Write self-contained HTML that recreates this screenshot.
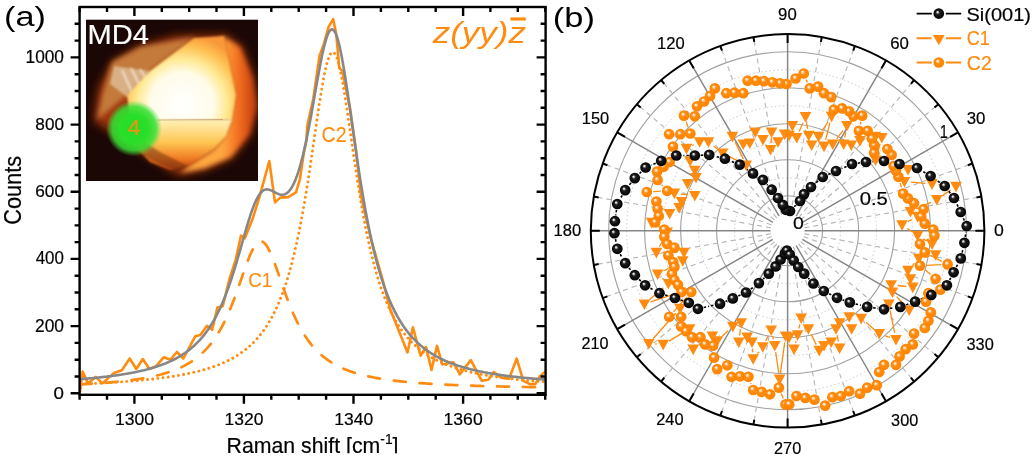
<!DOCTYPE html><html><head><meta charset="utf-8"><style>html,body{margin:0;padding:0;background:#fff;width:1033px;height:458px;overflow:hidden}svg{display:block;will-change:transform}text{font-family:"Liberation Sans", sans-serif;stroke-width:0.2px}</style></head><body>
<svg width="1033" height="458" viewBox="0 0 1033 458">
<defs><radialGradient id="bk" cx="0.5" cy="0.5" r="0.5" fx="0.36" fy="0.34"><stop offset="0" stop-color="#ffffff"/><stop offset="0.14" stop-color="#c8c8c8"/><stop offset="0.36" stop-color="#202020"/><stop offset="1" stop-color="#000"/></radialGradient><radialGradient id="og" cx="0.5" cy="0.5" r="0.5" fx="0.37" fy="0.33"><stop offset="0" stop-color="#ffffff"/><stop offset="0.15" stop-color="#ffe2c0"/><stop offset="0.42" stop-color="#ff8c10"/><stop offset="1" stop-color="#ff8400"/></radialGradient></defs>
<g id="inset">
<defs><clipPath id="ic"><rect x="86" y="19.4" width="172" height="161.6"/></clipPath><filter id="bl" x="-20%" y="-20%" width="140%" height="140%"><feGaussianBlur stdDeviation="1.3"/></filter><filter id="bl2" x="-20%" y="-20%" width="140%" height="140%"><feGaussianBlur stdDeviation="2.6"/></filter><filter id="bl3" x="-20%" y="-20%" width="140%" height="140%"><feGaussianBlur stdDeviation="5"/></filter><radialGradient id="cg" gradientUnits="userSpaceOnUse" cx="182" cy="104" r="70"><stop offset="0" stop-color="#ffffff"/><stop offset="0.45" stop-color="#fffcea"/><stop offset="0.64" stop-color="#ffea94"/><stop offset="0.84" stop-color="#ffbe50"/><stop offset="1" stop-color="#f89838"/></radialGradient><linearGradient id="rb" gradientUnits="userSpaceOnUse" x1="222" y1="0" x2="258" y2="0"><stop offset="0" stop-color="#ffa840"/><stop offset="0.5" stop-color="#f06a1e"/><stop offset="1" stop-color="#b8380e"/></linearGradient><linearGradient id="lb" gradientUnits="userSpaceOnUse" x1="0" y1="118" x2="0" y2="172"><stop offset="0" stop-color="#fff6c0"/><stop offset="0.45" stop-color="#ffc654"/><stop offset="0.75" stop-color="#f07c24"/><stop offset="1" stop-color="#b0380e"/></linearGradient><radialGradient id="gg" cx="0.5" cy="0.5" r="0.5"><stop offset="0" stop-color="#26dc26"/><stop offset="0.5" stop-color="#2ade2a"/><stop offset="0.78" stop-color="#34e034" stop-opacity="0.85"/><stop offset="1" stop-color="#40e040" stop-opacity="0"/></radialGradient></defs>
<g clip-path="url(#ic)">
<rect x="86" y="19.4" width="172" height="161.6" fill="#1b0706"/>
<path d="M94,121 L98,90 L112,62 L140,46 L175,36 L226,35 L242,47 L254,78 L258,106 L251,134 L232,158 L205,170 L178,175 Z" fill="#a0340e" filter="url(#bl3)"/>
<path d="M222,36 L240,47 L252,78 L256,106 L249,134 L231,157 L205,168 L180,173 L190,165 L214,149 L224,136 L230,120 L234,95 Z" fill="url(#rb)" filter="url(#bl2)"/>
<path d="M97,120 L103,92 L112,62 L140,47 L196,37 L150,71 L127,95 Z" fill="#c47a3a" filter="url(#bl2)"/>
<path d="M114,66 L150,71 L140,88 L127,97 L110,84 Z" fill="#e8d4b8" opacity="0.6" filter="url(#bl)"/>
<path d="M122,70 L132,92 M131,68 L141,88 M140,69 L147,80" stroke="#fff8ec" stroke-width="2.2" opacity="0.6" filter="url(#bl)"/>
<path d="M127,95 L150,71 L194,38 L224,36 L236,95 L232,120 L150,121 L130,118 Z" fill="url(#cg)" filter="url(#bl)"/>
<path d="M128,119 L232,119.5 L226,136 L214,149 L191,164 L170,170 L150,162 L130,140 Z" fill="url(#lb)" filter="url(#bl)"/>
<path d="M96,121 L120,140 L150,160 L178,172 L188,166 L160,152 L125,130 Z" fill="#6a2a10" opacity="0.5" filter="url(#bl)"/>
<path d="M158,120 L223,119.5" stroke="#8a6040" stroke-width="0.9" opacity="0.4"/>
<circle cx="134" cy="128.5" r="28" fill="url(#gg)"/>
</g>
</g>
<clipPath id="cl"><rect x="80" y="8" width="465" height="386"/></clipPath>
<g clip-path="url(#cl)">
<path d="M80.0,384.1 L81.0,384.1 L82.0,384.0 L83.0,384.0 L84.0,383.9 L85.0,383.9 L86.0,383.9 L87.0,383.8 L88.0,383.8 L89.0,383.7 L90.0,383.7 L91.0,383.6 L92.0,383.6 L93.0,383.5 L94.0,383.5 L95.0,383.4 L96.0,383.4 L97.0,383.3 L98.0,383.3 L99.0,383.2 L100.0,383.2 L101.0,383.1 L102.0,383.0 L103.0,383.0 L104.0,382.9 L105.0,382.9 L106.0,382.8 L107.0,382.8 L108.0,382.7 L109.0,382.6 L110.0,382.6 L111.0,382.5 L112.0,382.5 L113.0,382.4 L114.0,382.3 L115.0,382.3 L116.0,382.2 L117.0,382.1 L118.0,382.1 L119.0,382.0 L120.0,381.9 L121.0,381.9 L122.0,381.8 L123.0,381.7 L124.0,381.6 L125.0,381.6 L126.0,381.5 L127.0,381.4 L128.0,381.3 L129.0,381.3 L130.0,381.2 L131.0,381.1 L132.0,381.0 L133.0,380.9 L134.0,380.8 L135.0,380.8 L136.0,380.7 L137.0,380.6 L138.0,380.5 L139.0,380.4 L140.0,380.3 L141.0,380.2 L142.0,380.1 L143.0,380.0 L144.0,379.9 L145.0,379.8 L146.0,379.7 L147.0,379.6 L148.0,379.5 L149.0,379.4 L150.0,379.3 L151.0,379.2 L152.0,379.1 L153.0,379.0 L154.0,378.9 L155.0,378.8 L156.0,378.6 L157.0,378.5 L158.0,378.4 L159.0,378.3 L160.0,378.1 L161.0,378.0 L162.0,377.9 L163.0,377.8 L164.0,377.6 L165.0,377.5 L166.0,377.4 L167.0,377.2 L168.0,377.1 L169.0,376.9 L170.0,376.8 L171.0,376.6 L172.0,376.5 L173.0,376.3 L174.0,376.2 L175.0,376.0 L176.0,375.8 L177.0,375.7 L178.0,375.5 L179.0,375.3 L180.0,375.1 L181.0,375.0 L182.0,374.8 L183.0,374.6 L184.0,374.4 L185.0,374.2 L186.0,374.0 L187.0,373.8 L188.0,373.6 L189.0,373.4 L190.0,373.2 L191.0,373.0 L192.0,372.7 L193.0,372.5 L194.0,372.3 L195.0,372.0 L196.0,371.8 L197.0,371.6 L198.0,371.3 L199.0,371.1 L200.0,370.8 L201.0,370.5 L202.0,370.3 L203.0,370.0 L204.0,369.7 L205.0,369.4 L206.0,369.1 L207.0,368.8 L208.0,368.5 L209.0,368.2 L210.0,367.9 L211.0,367.5 L212.0,367.2 L213.0,366.9 L214.0,366.5 L215.0,366.1 L216.0,365.8 L217.0,365.4 L218.0,365.0 L219.0,364.6 L220.0,364.2 L221.0,363.8 L222.0,363.4 L223.0,362.9 L224.0,362.5 L225.0,362.0 L226.0,361.6 L227.0,361.1 L228.0,360.6 L229.0,360.1 L230.0,359.6 L231.0,359.1 L232.0,358.5 L233.0,358.0 L234.0,357.4 L235.0,356.8 L236.0,356.2 L237.0,355.6 L238.0,354.9 L239.0,354.3 L240.0,353.6 L241.0,352.9 L242.0,352.2 L243.0,351.5 L244.0,350.7 L245.0,350.0 L246.0,349.2 L247.0,348.3 L248.0,347.5 L249.0,346.6 L250.0,345.7 L251.0,344.8 L252.0,343.9 L253.0,342.9 L254.0,341.9 L255.0,340.8 L256.0,339.8 L257.0,338.7 L258.0,337.5 L259.0,336.3 L260.0,335.1 L261.0,333.9 L262.0,332.6 L263.0,331.2 L264.0,329.9 L265.0,328.4 L266.0,326.9 L267.0,325.4 L268.0,323.8 L269.0,322.2 L270.0,320.5 L271.0,318.7 L272.0,316.9 L273.0,315.0 L274.0,313.1 L275.0,311.1 L276.0,309.0 L277.0,306.8 L278.0,304.6 L279.0,302.2 L280.0,299.8 L281.0,297.3 L282.0,294.7 L283.0,292.0 L284.0,289.2 L285.0,286.3 L286.0,283.2 L287.0,280.1 L288.0,276.9 L289.0,273.5 L290.0,270.0 L291.0,266.3 L292.0,262.6 L293.0,258.6 L294.0,254.6 L295.0,250.4 L296.0,246.0 L297.0,241.5 L298.0,236.8 L299.0,231.9 L300.0,226.9 L301.0,221.7 L302.0,216.4 L303.0,210.8 L304.0,205.1 L305.0,199.3 L306.0,193.3 L307.0,187.1 L308.0,180.8 L309.0,174.3 L310.0,167.7 L311.0,161.0 L312.0,154.2 L313.0,147.3 L314.0,140.4 L315.0,133.5 L316.0,126.6 L317.0,119.7 L318.0,112.9 L319.0,106.2 L320.0,99.7 L321.0,93.4 L322.0,87.4 L323.0,81.7 L324.0,76.4 L325.0,71.4 L326.0,67.0 L327.0,63.0 L328.0,59.6 L329.0,56.9 L330.0,54.7 L331.0,53.2 L332.0,52.3 L333.0,52.2 L334.0,52.7 L335.0,53.9 L336.0,55.7 L337.0,58.2 L338.0,61.3 L339.0,65.0 L340.0,69.3 L341.0,74.0 L342.0,79.1 L343.0,84.6 L344.0,90.5 L345.0,96.7 L346.0,103.1 L347.0,109.7 L348.0,116.4 L349.0,123.3 L350.0,130.2 L351.0,137.1 L352.0,144.1 L353.0,151.0 L354.0,157.8 L355.0,164.5 L356.0,171.2 L357.0,177.7 L358.0,184.1 L359.0,190.3 L360.0,196.4 L361.0,202.4 L362.0,208.1 L363.0,213.8 L364.0,219.2 L365.0,224.5 L366.0,229.6 L367.0,234.5 L368.0,239.3 L369.0,243.9 L370.0,248.3 L371.0,252.6 L372.0,256.7 L373.0,260.7 L374.0,264.5 L375.0,268.3 L376.0,271.8 L377.0,275.3 L378.0,278.6 L379.0,281.8 L380.0,284.8 L381.0,287.8 L382.0,290.7 L383.0,293.4 L384.0,296.1 L385.0,298.6 L386.0,301.1 L387.0,303.5 L388.0,305.7 L389.0,307.9 L390.0,310.1 L391.0,312.1 L392.0,314.1 L393.0,316.0 L394.0,317.9 L395.0,319.7 L396.0,321.4 L397.0,323.1 L398.0,324.7 L399.0,326.2 L400.0,327.7 L401.0,329.2 L402.0,330.6 L403.0,331.9 L404.0,333.3 L405.0,334.5 L406.0,335.8 L407.0,337.0 L408.0,338.1 L409.0,339.2 L410.0,340.3 L411.0,341.4 L412.0,342.4 L413.0,343.4 L414.0,344.4 L415.0,345.3 L416.0,346.2 L417.0,347.1 L418.0,347.9 L419.0,348.8 L420.0,349.6 L421.0,350.4 L422.0,351.1 L423.0,351.9 L424.0,352.6 L425.0,353.3 L426.0,354.0 L427.0,354.6 L428.0,355.3 L429.0,355.9 L430.0,356.5 L431.0,357.1 L432.0,357.7 L433.0,358.2 L434.0,358.8 L435.0,359.3 L436.0,359.9 L437.0,360.4 L438.0,360.9 L439.0,361.3 L440.0,361.8 L441.0,362.3 L442.0,362.7 L443.0,363.2 L444.0,363.6 L445.0,364.0 L446.0,364.4 L447.0,364.8 L448.0,365.2 L449.0,365.6 L450.0,366.0 L451.0,366.3 L452.0,366.7 L453.0,367.0 L454.0,367.4 L455.0,367.7 L456.0,368.0 L457.0,368.4 L458.0,368.7 L459.0,369.0 L460.0,369.3 L461.0,369.6 L462.0,369.8 L463.0,370.1 L464.0,370.4 L465.0,370.7 L466.0,370.9 L467.0,371.2 L468.0,371.4 L469.0,371.7 L470.0,371.9 L471.0,372.2 L472.0,372.4 L473.0,372.6 L474.0,372.9 L475.0,373.1 L476.0,373.3 L477.0,373.5 L478.0,373.7 L479.0,373.9 L480.0,374.1 L481.0,374.3 L482.0,374.5 L483.0,374.7 L484.0,374.9 L485.0,375.1 L486.0,375.2 L487.0,375.4 L488.0,375.6 L489.0,375.7 L490.0,375.9 L491.0,376.1 L492.0,376.2 L493.0,376.4 L494.0,376.6 L495.0,376.7 L496.0,376.9 L497.0,377.0 L498.0,377.1 L499.0,377.3 L500.0,377.4 L501.0,377.6 L502.0,377.7 L503.0,377.8 L504.0,378.0 L505.0,378.1 L506.0,378.2 L507.0,378.3 L508.0,378.5 L509.0,378.6 L510.0,378.7 L511.0,378.8 L512.0,378.9 L513.0,379.0 L514.0,379.2 L515.0,379.3 L516.0,379.4 L517.0,379.5 L518.0,379.6 L519.0,379.7 L520.0,379.8 L521.0,379.9 L522.0,380.0 L523.0,380.1 L524.0,380.2 L525.0,380.3 L526.0,380.4 L527.0,380.5 L528.0,380.5 L529.0,380.6 L530.0,380.7 L531.0,380.8 L532.0,380.9 L533.0,381.0 L534.0,381.1 L535.0,381.1 L536.0,381.2 L537.0,381.3 L538.0,381.4 L539.0,381.5 L540.0,381.5 L541.0,381.6 L542.0,381.7 L543.0,381.7 L544.0,381.8 L545.0,381.9" fill="none" stroke="#ff8c10" stroke-width="2.9" stroke-dasharray="0.01 5.2" stroke-linecap="round"/>
<path d="M80.0,384.4 L81.0,384.4 L82.0,384.3 L83.0,384.3 L84.0,384.2 L85.0,384.2 L86.0,384.1 L87.0,384.0 L88.0,384.0 L89.0,383.9 L90.0,383.9 L91.0,383.8 L92.0,383.7 L93.0,383.7 L94.0,383.6 L95.0,383.5 L96.0,383.5 L97.0,383.4 L98.0,383.3 L99.0,383.3 L100.0,383.2 L101.0,383.1 L102.0,383.1 L103.0,383.0 L104.0,382.9 L105.0,382.8 L106.0,382.7 L107.0,382.7 L108.0,382.6 L109.0,382.5 L110.0,382.4 L111.0,382.3 L112.0,382.2 L113.0,382.1 L114.0,382.0 L115.0,382.0 L116.0,381.9 L117.0,381.8 L118.0,381.7 L119.0,381.6 L120.0,381.4 L121.0,381.3 L122.0,381.2 L123.0,381.1 L124.0,381.0 L125.0,380.9 L126.0,380.8 L127.0,380.7 L128.0,380.5 L129.0,380.4 L130.0,380.3 L131.0,380.2 L132.0,380.0 L133.0,379.9 L134.0,379.7 L135.0,379.6 L136.0,379.5 L137.0,379.3 L138.0,379.2 L139.0,379.0 L140.0,378.8 L141.0,378.7 L142.0,378.5 L143.0,378.3 L144.0,378.2 L145.0,378.0 L146.0,377.8 L147.0,377.6 L148.0,377.4 L149.0,377.2 L150.0,377.0 L151.0,376.8 L152.0,376.6 L153.0,376.4 L154.0,376.2 L155.0,376.0 L156.0,375.7 L157.0,375.5 L158.0,375.2 L159.0,375.0 L160.0,374.7 L161.0,374.5 L162.0,374.2 L163.0,373.9 L164.0,373.6 L165.0,373.3 L166.0,373.0 L167.0,372.7 L168.0,372.4 L169.0,372.1 L170.0,371.7 L171.0,371.4 L172.0,371.0 L173.0,370.7 L174.0,370.3 L175.0,369.9 L176.0,369.5 L177.0,369.1 L178.0,368.7 L179.0,368.3 L180.0,367.8 L181.0,367.3 L182.0,366.9 L183.0,366.4 L184.0,365.9 L185.0,365.4 L186.0,364.8 L187.0,364.3 L188.0,363.7 L189.0,363.1 L190.0,362.5 L191.0,361.9 L192.0,361.2 L193.0,360.5 L194.0,359.8 L195.0,359.1 L196.0,358.4 L197.0,357.6 L198.0,356.8 L199.0,356.0 L200.0,355.1 L201.0,354.3 L202.0,353.4 L203.0,352.4 L204.0,351.4 L205.0,350.4 L206.0,349.4 L207.0,348.3 L208.0,347.2 L209.0,346.0 L210.0,344.8 L211.0,343.6 L212.0,342.3 L213.0,340.9 L214.0,339.5 L215.0,338.1 L216.0,336.6 L217.0,335.1 L218.0,333.5 L219.0,331.8 L220.0,330.1 L221.0,328.3 L222.0,326.5 L223.0,324.6 L224.0,322.6 L225.0,320.6 L226.0,318.5 L227.0,316.4 L228.0,314.1 L229.0,311.8 L230.0,309.5 L231.0,307.1 L232.0,304.6 L233.0,302.0 L234.0,299.4 L235.0,296.8 L236.0,294.0 L237.0,291.3 L238.0,288.5 L239.0,285.6 L240.0,282.8 L241.0,279.9 L242.0,277.0 L243.0,274.1 L244.0,271.2 L245.0,268.4 L246.0,265.6 L247.0,262.9 L248.0,260.3 L249.0,257.7 L250.0,255.3 L251.0,253.0 L252.0,250.9 L253.0,248.9 L254.0,247.1 L255.0,245.6 L256.0,244.2 L257.0,243.1 L258.0,242.3 L259.0,241.7 L260.0,241.4 L261.0,241.3 L262.0,241.5 L263.0,241.9 L264.0,242.7 L265.0,243.6 L266.0,244.9 L267.0,246.3 L268.0,248.0 L269.0,249.8 L270.0,251.9 L271.0,254.1 L272.0,256.4 L273.0,258.9 L274.0,261.5 L275.0,264.2 L276.0,266.9 L277.0,269.8 L278.0,272.6 L279.0,275.5 L280.0,278.4 L281.0,281.3 L282.0,284.1 L283.0,287.0 L284.0,289.8 L285.0,292.6 L286.0,295.3 L287.0,298.0 L288.0,300.7 L289.0,303.3 L290.0,305.8 L291.0,308.2 L292.0,310.6 L293.0,313.0 L294.0,315.2 L295.0,317.4 L296.0,319.5 L297.0,321.6 L298.0,323.6 L299.0,325.5 L300.0,327.4 L301.0,329.2 L302.0,330.9 L303.0,332.6 L304.0,334.2 L305.0,335.8 L306.0,337.3 L307.0,338.8 L308.0,340.2 L309.0,341.6 L310.0,342.9 L311.0,344.2 L312.0,345.4 L313.0,346.6 L314.0,347.7 L315.0,348.8 L316.0,349.9 L317.0,350.9 L318.0,351.9 L319.0,352.9 L320.0,353.8 L321.0,354.7 L322.0,355.6 L323.0,356.4 L324.0,357.2 L325.0,358.0 L326.0,358.7 L327.0,359.5 L328.0,360.2 L329.0,360.9 L330.0,361.5 L331.0,362.2 L332.0,362.8 L333.0,363.4 L334.0,364.0 L335.0,364.5 L336.0,365.1 L337.0,365.6 L338.0,366.1 L339.0,366.6 L340.0,367.1 L341.0,367.6 L342.0,368.0 L343.0,368.5 L344.0,368.9 L345.0,369.3 L346.0,369.7 L347.0,370.1 L348.0,370.5 L349.0,370.9 L350.0,371.2 L351.0,371.6 L352.0,371.9 L353.0,372.2 L354.0,372.6 L355.0,372.9 L356.0,373.2 L357.0,373.5 L358.0,373.8 L359.0,374.1 L360.0,374.3 L361.0,374.6 L362.0,374.9 L363.0,375.1 L364.0,375.4 L365.0,375.6 L366.0,375.8 L367.0,376.1 L368.0,376.3 L369.0,376.5 L370.0,376.7 L371.0,376.9 L372.0,377.1 L373.0,377.3 L374.0,377.5 L375.0,377.7 L376.0,377.9 L377.0,378.1 L378.0,378.2 L379.0,378.4 L380.0,378.6 L381.0,378.8 L382.0,378.9 L383.0,379.1 L384.0,379.2 L385.0,379.4 L386.0,379.5 L387.0,379.7 L388.0,379.8 L389.0,379.9 L390.0,380.1 L391.0,380.2 L392.0,380.3 L393.0,380.5 L394.0,380.6 L395.0,380.7 L396.0,380.8 L397.0,381.0 L398.0,381.1 L399.0,381.2 L400.0,381.3 L401.0,381.4 L402.0,381.5 L403.0,381.6 L404.0,381.7 L405.0,381.8 L406.0,381.9 L407.0,382.0 L408.0,382.1 L409.0,382.2 L410.0,382.3 L411.0,382.4 L412.0,382.4 L413.0,382.5 L414.0,382.6 L415.0,382.7 L416.0,382.8 L417.0,382.9 L418.0,382.9 L419.0,383.0 L420.0,383.1 L421.0,383.2 L422.0,383.2 L423.0,383.3 L424.0,383.4 L425.0,383.4 L426.0,383.5 L427.0,383.6 L428.0,383.6 L429.0,383.7 L430.0,383.8 L431.0,383.8 L432.0,383.9 L433.0,384.0 L434.0,384.0 L435.0,384.1 L436.0,384.1 L437.0,384.2 L438.0,384.2 L439.0,384.3 L440.0,384.4 L441.0,384.4 L442.0,384.5 L443.0,384.5 L444.0,384.6 L445.0,384.6 L446.0,384.7 L447.0,384.7 L448.0,384.8 L449.0,384.8 L450.0,384.8 L451.0,384.9 L452.0,384.9 L453.0,385.0 L454.0,385.0 L455.0,385.1 L456.0,385.1 L457.0,385.1 L458.0,385.2 L459.0,385.2 L460.0,385.3 L461.0,385.3 L462.0,385.3 L463.0,385.4 L464.0,385.4 L465.0,385.5 L466.0,385.5 L467.0,385.5 L468.0,385.6 L469.0,385.6 L470.0,385.6 L471.0,385.7 L472.0,385.7 L473.0,385.7 L474.0,385.8 L475.0,385.8 L476.0,385.8 L477.0,385.9 L478.0,385.9 L479.0,385.9 L480.0,385.9 L481.0,386.0 L482.0,386.0 L483.0,386.0 L484.0,386.1 L485.0,386.1 L486.0,386.1 L487.0,386.1 L488.0,386.2 L489.0,386.2 L490.0,386.2 L491.0,386.3 L492.0,386.3 L493.0,386.3 L494.0,386.3 L495.0,386.4 L496.0,386.4 L497.0,386.4 L498.0,386.4 L499.0,386.4 L500.0,386.5 L501.0,386.5 L502.0,386.5 L503.0,386.5 L504.0,386.6 L505.0,386.6 L506.0,386.6 L507.0,386.6 L508.0,386.6 L509.0,386.7 L510.0,386.7 L511.0,386.7 L512.0,386.7 L513.0,386.7 L514.0,386.8 L515.0,386.8 L516.0,386.8 L517.0,386.8 L518.0,386.8 L519.0,386.9 L520.0,386.9 L521.0,386.9 L522.0,386.9 L523.0,386.9 L524.0,387.0 L525.0,387.0 L526.0,387.0 L527.0,387.0 L528.0,387.0 L529.0,387.0 L530.0,387.1 L531.0,387.1 L532.0,387.1 L533.0,387.1 L534.0,387.1 L535.0,387.1 L536.0,387.1 L537.0,387.2 L538.0,387.2 L539.0,387.2 L540.0,387.2 L541.0,387.2 L542.0,387.2 L543.0,387.3 L544.0,387.3 L545.0,387.3" fill="none" stroke="#ff8c10" stroke-width="2.7" stroke-dasharray="12 13.9" stroke-dashoffset="0.05" stroke-linecap="round"/>
<path d="M80.0,392.0 L82.6,371.6 L87.9,383.4 L95.7,376.9 L102.3,383.4 L114.0,372.9 L121.9,370.3 L129.7,358.5 L136.3,369.0 L142.8,359.0 L149.4,369.0 L155.9,366.4 L163.8,357.2 L170.3,359.8 L176.9,352.0 L183.4,358.5 L195.2,336.3 L200.4,335.0 L207.0,325.8 L212.2,329.7 L217.4,307.5 L222.7,306.2 L229.2,280.0 L235.7,260.0 L241.0,235.6 L244.9,238.2 L252.7,218.6 L259.3,197.6 L269.3,161.0 L275.0,202.4 L280.3,197.6 L288.1,197.1 L296.0,192.4 L299.9,179.3 L303.8,153.1 L306.5,140.0 L307.2,126.2 L313.3,98.7 L319.5,55.9 L324.0,43.6 L328.6,26.8 L333.2,19.2 L336.3,34.5 L339.3,68.1 L342.4,71.2 L345.5,86.5 L350.0,108.0 L356.0,150.0 L361.0,196.0 L371.0,239.0 L383.0,281.0 L390.0,308.7 L407.5,352.4 L412.9,327.3 L420.6,355.7 L426.0,347.0 L431.5,369.9 L437.0,345.9 L442.4,364.5 L453.4,362.3 L459.9,374.3 L470.8,360.1 L481.8,380.8 L488.3,379.7 L493.8,372.1 L501.4,377.6 L509.1,378.7 L516.7,358.6 L523.3,380.8 L529.8,384.1 L535.3,384.1 L539.7,376.5 L546.0,371.0" fill="none" stroke="#ff8c10" stroke-width="2.6" stroke-linejoin="round"/>
<path d="M80.0,379.2 L81.0,379.1 L82.0,379.0 L83.0,378.9 L84.0,378.9 L85.0,378.8 L86.0,378.7 L87.0,378.6 L88.0,378.5 L89.0,378.4 L90.0,378.3 L91.0,378.3 L92.0,378.2 L93.0,378.1 L94.0,378.0 L95.0,377.9 L96.0,377.8 L97.0,377.7 L98.0,377.6 L99.0,377.5 L100.0,377.4 L101.0,377.3 L102.0,377.1 L103.0,377.0 L104.0,376.9 L105.0,376.8 L106.0,376.7 L107.0,376.6 L108.0,376.4 L109.0,376.3 L110.0,376.2 L111.0,376.1 L112.0,375.9 L113.0,375.8 L114.0,375.7 L115.0,375.5 L116.0,375.4 L117.0,375.3 L118.0,375.1 L119.0,375.0 L120.0,374.8 L121.0,374.7 L122.0,374.5 L123.0,374.3 L124.0,374.2 L125.0,374.0 L126.0,373.8 L127.0,373.7 L128.0,373.5 L129.0,373.3 L130.0,373.1 L131.0,373.0 L132.0,372.8 L133.0,372.6 L134.0,372.4 L135.0,372.2 L136.0,372.0 L137.0,371.8 L138.0,371.5 L139.0,371.3 L140.0,371.1 L141.0,370.9 L142.0,370.6 L143.0,370.4 L144.0,370.2 L145.0,369.9 L146.0,369.7 L147.0,369.4 L148.0,369.1 L149.0,368.9 L150.0,368.6 L151.0,368.3 L152.0,368.0 L153.0,367.7 L154.0,367.4 L155.0,367.1 L156.0,366.8 L157.0,366.5 L158.0,366.1 L159.0,365.8 L160.0,365.4 L161.0,365.1 L162.0,364.7 L163.0,364.3 L164.0,364.0 L165.0,363.6 L166.0,363.2 L167.0,362.7 L168.0,362.3 L169.0,361.9 L170.0,361.4 L171.0,361.0 L172.0,360.5 L173.0,360.0 L174.0,359.5 L175.0,359.0 L176.0,358.5 L177.0,357.9 L178.0,357.4 L179.0,356.8 L180.0,356.2 L181.0,355.6 L182.0,355.0 L183.0,354.3 L184.0,353.6 L185.0,353.0 L186.0,352.3 L187.0,351.5 L188.0,350.8 L189.0,350.0 L190.0,349.2 L191.0,348.4 L192.0,347.6 L193.0,346.7 L194.0,345.8 L195.0,344.9 L196.0,343.9 L197.0,342.9 L198.0,341.9 L199.0,340.9 L200.0,339.8 L201.0,338.7 L202.0,337.5 L203.0,336.3 L204.0,335.1 L205.0,333.8 L206.0,332.5 L207.0,331.1 L208.0,329.7 L209.0,328.2 L210.0,326.7 L211.0,325.1 L212.0,323.5 L213.0,321.8 L214.0,320.1 L215.0,318.3 L216.0,316.4 L217.0,314.5 L218.0,312.5 L219.0,310.5 L220.0,308.4 L221.0,306.2 L222.0,303.9 L223.0,301.6 L224.0,299.1 L225.0,296.7 L226.0,294.1 L227.0,291.4 L228.0,288.7 L229.0,285.9 L230.0,283.0 L231.0,280.1 L232.0,277.1 L233.0,274.0 L234.0,270.8 L235.0,267.6 L236.0,264.3 L237.0,260.9 L238.0,257.5 L239.0,254.0 L240.0,250.6 L241.0,247.1 L242.0,243.5 L243.0,240.0 L244.0,236.5 L245.0,233.0 L246.0,229.6 L247.0,226.2 L248.0,222.8 L249.0,219.6 L250.0,216.4 L251.0,213.4 L252.0,210.5 L253.0,207.7 L254.0,205.2 L255.0,202.8 L256.0,200.5 L257.0,198.5 L258.0,196.7 L259.0,195.1 L260.0,193.7 L261.0,192.5 L262.0,191.5 L263.0,190.7 L264.0,190.1 L265.0,189.7 L266.0,189.5 L267.0,189.4 L268.0,189.5 L269.0,189.7 L270.0,190.0 L271.0,190.4 L272.0,190.8 L273.0,191.3 L274.0,191.9 L275.0,192.4 L276.0,192.9 L277.0,193.4 L278.0,193.8 L279.0,194.2 L280.0,194.5 L281.0,194.7 L282.0,194.7 L283.0,194.7 L284.0,194.5 L285.0,194.2 L286.0,193.7 L287.0,193.0 L288.0,192.2 L289.0,191.2 L290.0,190.0 L291.0,188.6 L292.0,187.0 L293.0,185.1 L294.0,183.1 L295.0,180.9 L296.0,178.4 L297.0,175.7 L298.0,172.8 L299.0,169.7 L300.0,166.4 L301.0,162.8 L302.0,159.0 L303.0,155.0 L304.0,150.8 L305.0,146.4 L306.0,141.8 L307.0,137.0 L308.0,132.0 L309.0,126.9 L310.0,121.6 L311.0,116.2 L312.0,110.6 L313.0,105.0 L314.0,99.3 L315.0,93.6 L316.0,87.9 L317.0,82.3 L318.0,76.7 L319.0,71.2 L320.0,65.9 L321.0,60.7 L322.0,55.8 L323.0,51.2 L324.0,47.0 L325.0,43.1 L326.0,39.6 L327.0,36.5 L328.0,34.0 L329.0,32.0 L330.0,30.6 L331.0,29.7 L332.0,29.4 L333.0,29.7 L334.0,30.6 L335.0,32.2 L336.0,34.3 L337.0,37.0 L338.0,40.2 L339.0,44.0 L340.0,48.3 L341.0,53.0 L342.0,58.2 L343.0,63.7 L344.0,69.5 L345.0,75.7 L346.0,82.1 L347.0,88.7 L348.0,95.5 L349.0,102.4 L350.0,109.4 L351.0,116.4 L352.0,123.5 L353.0,130.5 L354.0,137.6 L355.0,144.5 L356.0,151.4 L357.0,158.2 L358.0,164.9 L359.0,171.4 L360.0,177.9 L361.0,184.1 L362.0,190.3 L363.0,196.2 L364.0,202.0 L365.0,207.7 L366.0,213.1 L367.0,218.5 L368.0,223.6 L369.0,228.6 L370.0,233.4 L371.0,238.1 L372.0,242.6 L373.0,246.9 L374.0,251.1 L375.0,255.2 L376.0,259.1 L377.0,262.9 L378.0,266.5 L379.0,270.0 L380.0,273.4 L381.0,276.7 L382.0,279.8 L383.0,282.8 L384.0,285.8 L385.0,288.6 L386.0,291.3 L387.0,294.0 L388.0,296.5 L389.0,298.9 L390.0,301.3 L391.0,303.6 L392.0,305.8 L393.0,307.9 L394.0,309.9 L395.0,311.9 L396.0,313.8 L397.0,315.7 L398.0,317.4 L399.0,319.2 L400.0,320.8 L401.0,322.4 L402.0,324.0 L403.0,325.5 L404.0,327.0 L405.0,328.4 L406.0,329.7 L407.0,331.1 L408.0,332.3 L409.0,333.6 L410.0,334.8 L411.0,335.9 L412.0,337.1 L413.0,338.1 L414.0,339.2 L415.0,340.2 L416.0,341.2 L417.0,342.2 L418.0,343.1 L419.0,344.0 L420.0,344.9 L421.0,345.8 L422.0,346.6 L423.0,347.4 L424.0,348.2 L425.0,349.0 L426.0,349.7 L427.0,350.5 L428.0,351.2 L429.0,351.8 L430.0,352.5 L431.0,353.2 L432.0,353.8 L433.0,354.4 L434.0,355.0 L435.0,355.6 L436.0,356.2 L437.0,356.7 L438.0,357.2 L439.0,357.8 L440.0,358.3 L441.0,358.8 L442.0,359.3 L443.0,359.7 L444.0,360.2 L445.0,360.7 L446.0,361.1 L447.0,361.5 L448.0,361.9 L449.0,362.4 L450.0,362.8 L451.0,363.2 L452.0,363.5 L453.0,363.9 L454.0,364.3 L455.0,364.6 L456.0,365.0 L457.0,365.3 L458.0,365.7 L459.0,366.0 L460.0,366.3 L461.0,366.6 L462.0,366.9 L463.0,367.2 L464.0,367.5 L465.0,367.8 L466.0,368.1 L467.0,368.3 L468.0,368.6 L469.0,368.9 L470.0,369.1 L471.0,369.4 L472.0,369.6 L473.0,369.9 L474.0,370.1 L475.0,370.3 L476.0,370.6 L477.0,370.8 L478.0,371.0 L479.0,371.2 L480.0,371.4 L481.0,371.6 L482.0,371.8 L483.0,372.0 L484.0,372.2 L485.0,372.4 L486.0,372.6 L487.0,372.8 L488.0,373.0 L489.0,373.2 L490.0,373.3 L491.0,373.5 L492.0,373.7 L493.0,373.8 L494.0,374.0 L495.0,374.2 L496.0,374.3 L497.0,374.5 L498.0,374.6 L499.0,374.8 L500.0,374.9 L501.0,375.1 L502.0,375.2 L503.0,375.3 L504.0,375.5 L505.0,375.6 L506.0,375.7 L507.0,375.9 L508.0,376.0 L509.0,376.1 L510.0,376.2 L511.0,376.4 L512.0,376.5 L513.0,376.6 L514.0,376.7 L515.0,376.8 L516.0,376.9 L517.0,377.0 L518.0,377.1 L519.0,377.3 L520.0,377.4 L521.0,377.5 L522.0,377.6 L523.0,377.7 L524.0,377.8 L525.0,377.9 L526.0,378.0 L527.0,378.0 L528.0,378.1 L529.0,378.2 L530.0,378.3 L531.0,378.4 L532.0,378.5 L533.0,378.6 L534.0,378.7 L535.0,378.7 L536.0,378.8 L537.0,378.9 L538.0,379.0 L539.0,379.1 L540.0,379.1 L541.0,379.2 L542.0,379.3 L543.0,379.4 L544.0,379.4 L545.0,379.5" fill="none" stroke="#878787" stroke-width="2.6"/>
</g>
<rect x="79.6" y="7.0" width="466.0" height="387.8" fill="none" stroke="#000" stroke-width="2.4"/>
<path d="M70.6,393.3H79.6M545.6,393.3H536.6M74.6,376.5H79.6M545.6,376.5H540.6M74.6,359.7H79.6M545.6,359.7H540.6M74.6,342.9H79.6M545.6,342.9H540.6M70.6,326.1H79.6M545.6,326.1H536.6M74.6,309.3H79.6M545.6,309.3H540.6M74.6,292.5H79.6M545.6,292.5H540.6M74.6,275.7H79.6M545.6,275.7H540.6M70.6,258.9H79.6M545.6,258.9H536.6M74.6,242.1H79.6M545.6,242.1H540.6M74.6,225.4H79.6M545.6,225.4H540.6M74.6,208.6H79.6M545.6,208.6H540.6M70.6,191.8H79.6M545.6,191.8H536.6M74.6,175.0H79.6M545.6,175.0H540.6M74.6,158.2H79.6M545.6,158.2H540.6M74.6,141.4H79.6M545.6,141.4H540.6M70.6,124.6H79.6M545.6,124.6H536.6M74.6,107.8H79.6M545.6,107.8H540.6M74.6,91.0H79.6M545.6,91.0H540.6M74.6,74.2H79.6M545.6,74.2H540.6M70.6,57.4H79.6M545.6,57.4H536.6M74.6,40.6H79.6M545.6,40.6H540.6M74.6,23.8H79.6M545.6,23.8H540.6M79.6,394.8V399.8M79.6,7.0V12.0M107.0,394.8V399.8M107.0,7.0V12.0M134.4,394.8V403.8M134.4,7.0V16.0M161.8,394.8V399.8M161.8,7.0V12.0M189.2,394.8V399.8M189.2,7.0V12.0M216.5,394.8V399.8M216.5,7.0V12.0M243.9,394.8V403.8M243.9,7.0V16.0M271.3,394.8V399.8M271.3,7.0V12.0M298.7,394.8V399.8M298.7,7.0V12.0M326.1,394.8V399.8M326.1,7.0V12.0M353.5,394.8V403.8M353.5,7.0V16.0M380.9,394.8V399.8M380.9,7.0V12.0M408.3,394.8V399.8M408.3,7.0V12.0M435.7,394.8V399.8M435.7,7.0V12.0M463.1,394.8V403.8M463.1,7.0V16.0M490.4,394.8V399.8M490.4,7.0V12.0M517.8,394.8V399.8M517.8,7.0V12.0M545.2,394.8V399.8M545.2,7.0V12.0" stroke="#000" stroke-width="2.4" fill="none"/>
<rect x="510.6" y="17.5" width="15" height="2.8" fill="#ff8c10"/>
<g id="polar">
<circle cx="787.6" cy="230.8" r="53" fill="none" stroke="#c8c8c8" stroke-width="1" stroke-dasharray="1.5 2.5"/><circle cx="787.6" cy="230.8" r="89" fill="none" stroke="#c8c8c8" stroke-width="1" stroke-dasharray="1.5 2.5"/><circle cx="787.6" cy="230.8" r="125" fill="none" stroke="#c8c8c8" stroke-width="1" stroke-dasharray="1.5 2.5"/><circle cx="787.6" cy="230.8" r="161" fill="none" stroke="#c8c8c8" stroke-width="1" stroke-dasharray="1.5 2.5"/><circle cx="787.6" cy="230.8" r="35" fill="none" stroke="#a0a0a0" stroke-width="1.1"/><circle cx="787.6" cy="230.8" r="71" fill="none" stroke="#a0a0a0" stroke-width="1.1"/><circle cx="787.6" cy="230.8" r="107" fill="none" stroke="#a0a0a0" stroke-width="1.1"/><circle cx="787.6" cy="230.8" r="143" fill="none" stroke="#a0a0a0" stroke-width="1.1"/><circle cx="787.6" cy="230.8" r="179" fill="none" stroke="#a0a0a0" stroke-width="1.1"/><path d="M804.3,227.8L980.6,196.8M803.6,225.0L971.8,163.8M800.6,219.9L937.7,104.8M798.5,217.8L913.6,80.7M793.4,214.8L854.6,46.6M790.6,214.1L821.6,37.8M784.6,214.1L753.6,37.8M781.8,214.8L720.6,46.6M776.7,217.8L661.6,80.7M774.6,219.9L637.5,104.8M771.6,225.0L603.4,163.8M770.9,227.8L594.6,196.8M770.9,233.8L594.6,264.8M771.6,236.6L603.4,297.8M774.6,241.7L637.5,356.8M776.7,243.8L661.6,380.9M781.8,246.8L720.6,415.0M784.6,247.5L753.6,423.8M790.6,247.5L821.6,423.8M793.4,246.8L854.6,415.0M798.5,243.8L913.6,380.9M800.6,241.7L937.7,356.8M803.6,236.6L971.8,297.8M804.3,233.8L980.6,264.8" stroke="#b4b4b4" stroke-width="1.1" stroke-dasharray="5 4" fill="none"/><path d="M804.6,230.8L983.6,230.8M802.3,222.3L957.3,132.8M796.1,216.1L885.6,61.1M787.6,213.8L787.6,34.8M779.1,216.1L689.6,61.1M772.9,222.3L617.9,132.8M770.6,230.8L591.6,230.8M772.9,239.3L617.9,328.8M779.1,245.5L689.6,400.5M787.6,247.8L787.6,426.8M796.1,245.5L885.6,400.5M802.3,239.3L957.3,328.8" stroke="#858585" stroke-width="1.45" fill="none"/><circle cx="787.6" cy="230.8" r="16.5" fill="#fff"/>
<circle cx="787.6" cy="230.8" r="196.8" fill="none" stroke="#000" stroke-width="2.0"/>
<path d="M984.4,230.8L975.4,230.8M981.4,196.6L976.5,197.5M972.5,163.5L967.8,165.2M958.0,132.4L950.2,136.9M938.4,104.3L934.5,107.5M914.1,80.0L910.9,83.9M886.0,60.4L881.5,68.2M854.9,45.9L853.2,50.6M821.8,37.0L820.9,41.9M787.6,34.0L787.6,43.0M753.4,37.0L754.3,41.9M720.3,45.9L722.0,50.6M689.2,60.4L693.7,68.2M661.1,80.0L664.3,83.9M636.8,104.3L640.7,107.5M617.2,132.4L625.0,136.9M602.7,163.5L607.4,165.2M593.8,196.6L598.7,197.5M590.8,230.8L599.8,230.8M593.8,265.0L598.7,264.1M602.7,298.1L607.4,296.4M617.2,329.2L625.0,324.7M636.8,357.3L640.7,354.1M661.1,381.6L664.3,377.7M689.2,401.2L693.7,393.4M720.3,415.7L722.0,411.0M753.4,424.6L754.3,419.7M787.6,427.6L787.6,418.6M821.8,424.6L820.9,419.7M854.9,415.7L853.2,411.0M886.0,401.2L881.5,393.4M914.1,381.6L910.9,377.7M938.4,357.3L934.5,354.1M958.0,329.2L950.2,324.7M972.5,298.1L967.8,296.4M981.4,265.0L976.5,264.1" stroke="#000" stroke-width="2" fill="none"/>
<path d="M907.7,221.7L911.9,219.5M916.3,208.9L930.9,202.3M942.2,195.9L950.6,190.1M949.5,185.8L938.5,184.6M925.5,183.4L910.9,182.2M901.8,167.8L881.8,161.8M877.3,153.7L880.1,143.8M869.0,138.2L866.3,138.9M844.7,137.6L845.8,131.9M842.9,130.7L836.7,138.8M825.6,139.9L830.0,122.6M828.1,121.7L822.0,131.0M807.6,128.9L806.6,123.1M803.0,122.7L799.2,131.5M771.2,138.5L771.0,143.0M735.2,142.3L743.4,159.1M740.4,162.1L728.4,156.1M717.5,149.1L713.5,145.9M693.8,144.7L692.3,145.5M690.9,189.2L691.5,190.0M688.3,194.8L680.9,194.0M663.8,216.5L657.4,219.5M657.1,225.8L661.7,228.6M664.2,237.7L659.4,246.7M662.9,252.4L677.5,252.4M677.0,263.8L663.4,271.0M662.5,278.3L663.5,279.3M663.4,287.8L649.4,299.8M650.6,301.9L674.2,294.1M680.2,298.5L680.2,301.9M675.7,313.3L653.1,338.7M655.3,344.0L656.7,344.0M668.8,341.1L684.0,332.1M690.7,335.2L692.1,342.8M698.6,345.5L707.0,339.7M722.0,336.4L728.0,330.8M740.4,329.2L739.6,335.6M752.5,348.5L752.7,352.3M757.3,353.7L758.7,351.9M765.7,341.0L768.3,335.8M772.7,336.3L773.3,339.3M775.7,352.0L778.7,372.8M780.5,372.8L784.7,342.4M795.6,342.9L796.0,341.1M799.0,328.4L799.8,324.4M811.3,334.6L816.3,344.6M838.4,341.6L837.2,335.2M866.2,322.6L874.2,329.4M885.3,335.8L889.9,337.4M894.7,333.2L890.1,310.4M895.0,305.8L903.0,308.2M904.8,305.2L896.8,296.8M897.7,285.5L906.3,286.5M912.3,265.6L914.5,263.2M925.2,257.0L929.2,256.2M926.4,240.7L923.2,238.9M912.3,231.9L907.3,228.5" fill="none" stroke="#ff8c10" stroke-width="1.3"/>
<path d="M901.4,187.4L900.2,183.0M881.0,150.8L880.5,150.9M860.3,124.5L860.8,122.0M807.3,82.4L806.2,79.5M686.2,121.7L688.1,127.4M671.6,152.9L671.0,155.7M661.9,184.9L662.9,185.9M660.7,191.2L653.3,191.6M651.4,196.6L651.8,197.0M686.9,296.9L673.5,311.9M750.6,382.9L751.0,383.9M781.3,393.6L783.2,398.4M930.6,274.6L925.0,269.8M926.5,265.3L941.1,264.7M941.8,261.4L930.6,255.4M925.6,240.7L928.8,238.9" fill="none" stroke="#ff8c10" stroke-width="1.3"/>
<path d="M964.3,220.5L963.1,217.5M958.1,206.6L956.6,203.4M950.3,193.3L948.4,190.7M939.8,182.5L935.5,179.5M925.4,173.0L922.2,171.0M911.2,166.7L905.3,165.3M893.6,162.9L889.9,162.1M878.0,161.3L872.0,161.7M860.1,162.8L857.9,163.2M846.5,166.4L841.5,168.6M830.5,173.5L828.2,174.5M818.1,180.9L815.6,183.1M795.8,205.2L794.2,206.8M767.7,185.2L766.9,184.4M748.0,170.1L744.7,167.9M734.1,162.4L730.5,160.9M719.1,157.3L715.0,156.2M703.2,155.1L700.8,155.2M688.8,155.5L682.3,155.5M670.6,157.5L666.9,158.8M655.7,163.2L651.1,165.1M641.3,171.7L639.1,173.9M631.1,182.8L628.9,185.4M622.2,195.3L620.3,198.8M616.5,209.9L615.7,215.3M615.5,239.1L616.2,242.9M620.2,254.1L622.3,257.9M628.9,267.9L631.1,270.5M639.1,279.4L640.8,281.1M650.4,288.2L654.2,290.3M665.2,295.0L669.2,296.2M680.6,300.0L683.1,300.8M703.7,307.5L714.2,305.0M725.5,301.4L727.3,300.7M738.3,296.0L740.5,294.9M750.8,289.0L754.1,286.6M763.2,278.9L764.5,277.8M808.3,278.0L809.3,279.1M818.3,287.0L818.9,287.5M829.1,293.7L831.7,295.1M842.6,299.8L844.2,300.4M855.6,303.9L861.4,305.4M873.1,307.7L878.1,308.5M889.9,308.4L894.4,307.8M906.0,304.9L909.5,303.6M920.7,299.3L925.8,297.2M936.4,291.8L941.8,288.4M949.6,280.0L950.9,277.6M956.4,267.0L958.0,263.7M962.1,252.6L963.1,248.6M965.2,236.9L965.9,231.9" fill="none" stroke="#000" stroke-width="1.6" stroke-dasharray="2.5 2 1 2"/>
<path d="M896.2,220.2H907.8L902.0,230.8ZM911.8,211.8H923.4L917.6,222.4ZM904.6,207.0H916.2L910.4,217.6ZM931.0,195.0H942.6L936.8,205.6ZM950.2,181.8H961.8L956.0,192.4ZM926.2,179.4H937.8L932.0,190.0ZM898.6,177.0H910.2L904.4,187.6ZM902.2,165.0H913.8L908.0,175.6ZM869.8,155.4H881.4L875.6,166.0ZM876.0,132.9H887.6L881.8,143.5ZM869.5,131.8H881.1L875.3,142.4ZM854.2,136.1H865.8L860.0,146.7ZM845.5,140.5H857.1L851.3,151.1ZM837.8,139.4H849.4L843.6,150.0ZM841.1,120.9H852.7L846.9,131.5ZM826.9,139.4H838.5L832.7,150.0ZM818.2,141.6H829.8L824.0,152.2ZM825.8,111.7H837.4L831.6,122.3ZM812.7,131.8H824.3L818.5,142.4ZM805.8,140.5H817.4L811.6,151.1ZM802.9,130.7H814.5L808.7,141.3ZM799.7,112.1H811.3L805.5,122.7ZM790.9,132.9H802.5L796.7,143.5ZM786.6,120.9H798.2L792.4,131.5ZM783.3,130.7H794.9L789.1,141.3ZM778.9,129.6H790.5L784.7,140.2ZM772.2,137.2H783.8L778.0,147.8ZM765.8,127.4H777.4L771.6,138.0ZM764.8,144.9H776.4L770.6,155.5ZM757.2,135.0H768.8L763.0,145.6ZM749.5,127.4H761.1L755.3,138.0ZM744.0,138.4H755.6L749.8,149.0ZM737.5,139.4H749.1L743.3,150.0ZM726.6,131.8H738.2L732.4,142.4ZM740.4,160.4H752.0L746.2,171.0ZM716.8,148.6H728.4L722.6,159.2ZM702.6,137.2H714.2L708.4,147.8ZM693.8,137.2H705.4L699.6,147.8ZM680.7,143.8H692.3L686.5,154.4ZM684.2,156.2H695.8L690.0,166.8ZM689.0,165.8H700.6L694.8,176.4ZM690.2,173.0H701.8L696.0,183.6ZM681.8,179.0H693.4L687.6,189.6ZM689.0,191.0H700.6L694.8,201.6ZM668.6,188.6H680.2L674.4,199.2ZM675.8,197.0H687.4L681.6,207.6ZM673.4,203.0H685.0L679.2,213.6ZM663.8,209.0H675.4L669.6,219.6ZM645.8,217.8H657.4L651.6,228.4ZM661.4,227.4H673.0L667.2,238.0ZM650.6,247.8H662.2L656.4,258.4ZM678.2,247.8H689.8L684.0,258.4ZM677.0,256.2H688.6L682.8,266.8ZM651.8,269.4H663.4L657.6,280.0ZM662.6,279.0H674.2L668.4,289.6ZM638.6,299.4H650.2L644.4,310.0ZM674.6,287.4H686.2L680.4,298.0ZM674.2,303.8H685.8L680.0,314.4ZM643.0,339.0H654.6L648.8,349.6ZM657.4,339.8H669.0L663.2,350.4ZM683.8,324.2H695.4L689.6,334.8ZM687.4,344.6H699.0L693.2,355.2ZM706.6,331.4H718.2L712.4,342.0ZM711.4,336.2H723.0L717.2,346.8ZM727.0,321.8H738.6L732.8,332.4ZM735.4,318.2H747.0L741.2,328.8ZM733.0,337.4H744.6L738.8,348.0ZM741.4,332.6H753.0L747.2,343.2ZM746.2,337.4H757.8L752.0,348.0ZM747.4,354.2H759.0L753.2,364.8ZM757.0,342.2H768.6L762.8,352.8ZM765.4,325.4H777.0L771.2,336.0ZM769.0,341.0H780.6L774.8,351.6ZM773.8,374.6H785.4L779.6,385.2ZM779.8,331.4H791.4L785.6,342.0ZM783.4,332.6H795.0L789.2,343.2ZM788.2,344.6H799.8L794.0,355.2ZM791.8,330.2H803.4L797.6,340.8ZM795.4,313.4H807.0L801.2,324.0ZM802.6,324.2H814.2L808.4,334.8ZM813.4,345.8H825.0L819.2,356.4ZM818.2,341.0H829.8L824.0,351.6ZM825.4,337.4H837.0L831.2,348.0ZM833.8,343.4H845.4L839.6,354.0ZM830.2,324.2H841.8L836.0,334.8ZM833.8,318.2H845.4L839.6,328.8ZM845.8,324.2H857.4L851.6,334.8ZM843.4,312.2H855.0L849.2,322.8ZM855.4,313.8H867.0L861.2,324.4ZM873.4,329.0H885.0L879.2,339.6ZM890.2,335.0H901.8L896.0,345.6ZM883.0,299.4H894.6L888.8,310.0ZM903.4,305.4H915.0L909.2,316.0ZM886.6,287.4H898.2L892.4,298.0ZM885.4,280.2H897.0L891.2,290.8ZM907.0,282.6H918.6L912.8,293.2ZM904.6,274.2H916.2L910.4,284.8ZM902.2,265.8H913.8L908.0,276.4ZM913.0,253.8H924.6L918.8,264.4ZM929.8,250.2H941.4L935.6,260.8ZM926.2,239.4H937.8L932.0,250.0ZM911.8,231.0H923.4L917.6,241.6Z" fill="#ff8c10"/>
<circle cx="933.2" cy="229.6" r="5.35" fill="url(#og)"/>
<circle cx="924.8" cy="223.6" r="5.35" fill="url(#og)"/>
<circle cx="921.2" cy="216.4" r="5.35" fill="url(#og)"/>
<circle cx="923.6" cy="209.2" r="5.35" fill="url(#og)"/>
<circle cx="914.0" cy="203.2" r="5.35" fill="url(#og)"/>
<circle cx="908.0" cy="198.4" r="5.35" fill="url(#og)"/>
<circle cx="903.2" cy="193.6" r="5.35" fill="url(#og)"/>
<circle cx="898.4" cy="176.8" r="5.35" fill="url(#og)"/>
<circle cx="896.0" cy="170.8" r="5.35" fill="url(#og)"/>
<circle cx="893.6" cy="166.0" r="5.35" fill="url(#og)"/>
<circle cx="891.6" cy="154.9" r="5.35" fill="url(#og)"/>
<circle cx="887.3" cy="149.0" r="5.35" fill="url(#og)"/>
<circle cx="874.2" cy="152.7" r="5.35" fill="url(#og)"/>
<circle cx="874.2" cy="145.1" r="5.35" fill="url(#og)"/>
<circle cx="872.0" cy="138.5" r="5.35" fill="url(#og)"/>
<circle cx="867.6" cy="130.9" r="5.35" fill="url(#og)"/>
<circle cx="858.9" cy="130.9" r="5.35" fill="url(#og)"/>
<circle cx="862.2" cy="115.6" r="5.35" fill="url(#og)"/>
<circle cx="853.5" cy="116.3" r="5.35" fill="url(#og)"/>
<circle cx="849.1" cy="111.3" r="5.35" fill="url(#og)"/>
<circle cx="842.1" cy="108.4" r="5.35" fill="url(#og)"/>
<circle cx="833.8" cy="109.7" r="5.35" fill="url(#og)"/>
<circle cx="831.2" cy="97.1" r="5.35" fill="url(#og)"/>
<circle cx="824.0" cy="93.2" r="5.35" fill="url(#og)"/>
<circle cx="818.1" cy="86.6" r="5.35" fill="url(#og)"/>
<circle cx="809.8" cy="88.4" r="5.35" fill="url(#og)"/>
<circle cx="803.7" cy="73.5" r="5.35" fill="url(#og)"/>
<circle cx="795.6" cy="78.5" r="5.35" fill="url(#og)"/>
<circle cx="786.5" cy="84.0" r="5.35" fill="url(#og)"/>
<circle cx="780.0" cy="83.3" r="5.35" fill="url(#og)"/>
<circle cx="772.3" cy="82.3" r="5.35" fill="url(#og)"/>
<circle cx="764.0" cy="81.2" r="5.35" fill="url(#og)"/>
<circle cx="756.0" cy="80.7" r="5.35" fill="url(#og)"/>
<circle cx="747.6" cy="80.7" r="5.35" fill="url(#og)"/>
<circle cx="743.3" cy="93.2" r="5.35" fill="url(#og)"/>
<circle cx="734.5" cy="92.7" r="5.35" fill="url(#og)"/>
<circle cx="726.3" cy="93.2" r="5.35" fill="url(#og)"/>
<circle cx="714.9" cy="88.4" r="5.35" fill="url(#og)"/>
<circle cx="710.1" cy="96.0" r="5.35" fill="url(#og)"/>
<circle cx="704.0" cy="101.5" r="5.35" fill="url(#og)"/>
<circle cx="697.0" cy="106.3" r="5.35" fill="url(#og)"/>
<circle cx="694.8" cy="116.3" r="5.35" fill="url(#og)"/>
<circle cx="684.0" cy="115.6" r="5.35" fill="url(#og)"/>
<circle cx="690.3" cy="133.5" r="5.35" fill="url(#og)"/>
<circle cx="680.4" cy="134.2" r="5.35" fill="url(#og)"/>
<circle cx="669.1" cy="134.2" r="5.35" fill="url(#og)"/>
<circle cx="673.0" cy="146.6" r="5.35" fill="url(#og)"/>
<circle cx="669.6" cy="162.0" r="5.35" fill="url(#og)"/>
<circle cx="663.6" cy="166.8" r="5.35" fill="url(#og)"/>
<circle cx="657.1" cy="171.6" r="5.35" fill="url(#og)"/>
<circle cx="657.6" cy="180.0" r="5.35" fill="url(#og)"/>
<circle cx="667.2" cy="190.8" r="5.35" fill="url(#og)"/>
<circle cx="646.8" cy="192.0" r="5.35" fill="url(#og)"/>
<circle cx="656.4" cy="201.6" r="5.35" fill="url(#og)"/>
<circle cx="657.6" cy="208.8" r="5.35" fill="url(#og)"/>
<circle cx="658.8" cy="216.0" r="5.35" fill="url(#og)"/>
<circle cx="655.2" cy="222.4" r="5.35" fill="url(#og)"/>
<circle cx="664.3" cy="229.6" r="5.35" fill="url(#og)"/>
<circle cx="664.3" cy="236.8" r="5.35" fill="url(#og)"/>
<circle cx="667.2" cy="244.0" r="5.35" fill="url(#og)"/>
<circle cx="674.4" cy="247.6" r="5.35" fill="url(#og)"/>
<circle cx="668.4" cy="255.5" r="5.35" fill="url(#og)"/>
<circle cx="673.2" cy="262.0" r="5.35" fill="url(#og)"/>
<circle cx="674.4" cy="266.8" r="5.35" fill="url(#og)"/>
<circle cx="672.0" cy="274.0" r="5.35" fill="url(#og)"/>
<circle cx="674.4" cy="280.0" r="5.35" fill="url(#og)"/>
<circle cx="678.0" cy="284.8" r="5.35" fill="url(#og)"/>
<circle cx="681.6" cy="292.0" r="5.35" fill="url(#og)"/>
<circle cx="691.2" cy="292.0" r="5.35" fill="url(#og)"/>
<circle cx="669.2" cy="316.8" r="5.35" fill="url(#og)"/>
<circle cx="681.2" cy="316.8" r="5.35" fill="url(#og)"/>
<circle cx="681.2" cy="326.4" r="5.35" fill="url(#og)"/>
<circle cx="686.0" cy="331.2" r="5.35" fill="url(#og)"/>
<circle cx="692.0" cy="337.2" r="5.35" fill="url(#og)"/>
<circle cx="700.4" cy="337.2" r="5.35" fill="url(#og)"/>
<circle cx="705.2" cy="344.4" r="5.35" fill="url(#og)"/>
<circle cx="713.1" cy="345.6" r="5.35" fill="url(#og)"/>
<circle cx="714.1" cy="357.6" r="5.35" fill="url(#og)"/>
<circle cx="717.2" cy="369.1" r="5.35" fill="url(#og)"/>
<circle cx="727.3" cy="365.3" r="5.35" fill="url(#og)"/>
<circle cx="731.6" cy="376.8" r="5.35" fill="url(#og)"/>
<circle cx="740.0" cy="376.3" r="5.35" fill="url(#og)"/>
<circle cx="748.4" cy="376.8" r="5.35" fill="url(#og)"/>
<circle cx="753.2" cy="390.0" r="5.35" fill="url(#og)"/>
<circle cx="761.6" cy="391.9" r="5.35" fill="url(#og)"/>
<circle cx="770.0" cy="394.3" r="5.35" fill="url(#og)"/>
<circle cx="778.9" cy="387.6" r="5.35" fill="url(#og)"/>
<circle cx="785.6" cy="404.4" r="5.35" fill="url(#og)"/>
<circle cx="789.2" cy="404.4" r="5.35" fill="url(#og)"/>
<circle cx="796.4" cy="396.0" r="5.35" fill="url(#og)"/>
<circle cx="805.3" cy="397.9" r="5.35" fill="url(#og)"/>
<circle cx="814.4" cy="399.6" r="5.35" fill="url(#og)"/>
<circle cx="825.2" cy="405.6" r="5.35" fill="url(#og)"/>
<circle cx="832.4" cy="397.2" r="5.35" fill="url(#og)"/>
<circle cx="840.8" cy="396.0" r="5.35" fill="url(#og)"/>
<circle cx="849.2" cy="391.2" r="5.35" fill="url(#og)"/>
<circle cx="860.0" cy="393.6" r="5.35" fill="url(#og)"/>
<circle cx="867.2" cy="387.6" r="5.35" fill="url(#og)"/>
<circle cx="876.8" cy="385.2" r="5.35" fill="url(#og)"/>
<circle cx="879.2" cy="372.0" r="5.35" fill="url(#og)"/>
<circle cx="884.0" cy="364.8" r="5.35" fill="url(#og)"/>
<circle cx="896.0" cy="364.8" r="5.35" fill="url(#og)"/>
<circle cx="899.6" cy="356.4" r="5.35" fill="url(#og)"/>
<circle cx="905.6" cy="349.2" r="5.35" fill="url(#og)"/>
<circle cx="912.8" cy="344.4" r="5.35" fill="url(#og)"/>
<circle cx="914.0" cy="333.6" r="5.35" fill="url(#og)"/>
<circle cx="924.8" cy="328.0" r="5.35" fill="url(#og)"/>
<circle cx="928.4" cy="320.8" r="5.35" fill="url(#og)"/>
<circle cx="930.8" cy="312.4" r="5.35" fill="url(#og)"/>
<circle cx="926.0" cy="301.6" r="5.35" fill="url(#og)"/>
<circle cx="928.4" cy="293.2" r="5.35" fill="url(#og)"/>
<circle cx="940.4" cy="289.6" r="5.35" fill="url(#og)"/>
<circle cx="935.6" cy="278.8" r="5.35" fill="url(#og)"/>
<circle cx="920.0" cy="265.6" r="5.35" fill="url(#og)"/>
<circle cx="947.6" cy="264.4" r="5.35" fill="url(#og)"/>
<circle cx="924.8" cy="252.4" r="5.35" fill="url(#og)"/>
<circle cx="920.0" cy="244.0" r="5.35" fill="url(#og)"/>
<circle cx="934.4" cy="235.6" r="5.35" fill="url(#og)"/>
<circle cx="966.7" cy="226.0" r="5.35" fill="url(#bk)"/>
<circle cx="960.7" cy="212.0" r="5.35" fill="url(#bk)"/>
<circle cx="954.0" cy="198.0" r="5.35" fill="url(#bk)"/>
<circle cx="944.7" cy="186.0" r="5.35" fill="url(#bk)"/>
<circle cx="930.6" cy="176.0" r="5.35" fill="url(#bk)"/>
<circle cx="917.0" cy="168.0" r="5.35" fill="url(#bk)"/>
<circle cx="899.5" cy="164.0" r="5.35" fill="url(#bk)"/>
<circle cx="884.0" cy="161.0" r="5.35" fill="url(#bk)"/>
<circle cx="866.0" cy="162.0" r="5.35" fill="url(#bk)"/>
<circle cx="852.0" cy="164.0" r="5.35" fill="url(#bk)"/>
<circle cx="836.0" cy="171.0" r="5.35" fill="url(#bk)"/>
<circle cx="822.7" cy="177.0" r="5.35" fill="url(#bk)"/>
<circle cx="811.0" cy="187.0" r="5.35" fill="url(#bk)"/>
<circle cx="804.0" cy="194.1" r="5.35" fill="url(#bk)"/>
<circle cx="800.0" cy="201.0" r="5.35" fill="url(#bk)"/>
<circle cx="790.0" cy="211.0" r="5.35" fill="url(#bk)"/>
<circle cx="785.9" cy="209.8" r="5.35" fill="url(#bk)"/>
<circle cx="782.9" cy="204.9" r="5.35" fill="url(#bk)"/>
<circle cx="778.0" cy="198.0" r="5.35" fill="url(#bk)"/>
<circle cx="771.7" cy="189.7" r="5.35" fill="url(#bk)"/>
<circle cx="762.9" cy="179.9" r="5.35" fill="url(#bk)"/>
<circle cx="753.0" cy="173.4" r="5.35" fill="url(#bk)"/>
<circle cx="739.7" cy="164.6" r="5.35" fill="url(#bk)"/>
<circle cx="724.9" cy="158.7" r="5.35" fill="url(#bk)"/>
<circle cx="709.2" cy="154.8" r="5.35" fill="url(#bk)"/>
<circle cx="694.8" cy="155.5" r="5.35" fill="url(#bk)"/>
<circle cx="676.3" cy="155.5" r="5.35" fill="url(#bk)"/>
<circle cx="661.2" cy="160.8" r="5.35" fill="url(#bk)"/>
<circle cx="645.6" cy="167.5" r="5.35" fill="url(#bk)"/>
<circle cx="634.8" cy="178.1" r="5.35" fill="url(#bk)"/>
<circle cx="625.2" cy="190.1" r="5.35" fill="url(#bk)"/>
<circle cx="617.3" cy="204.0" r="5.35" fill="url(#bk)"/>
<circle cx="614.9" cy="221.2" r="5.35" fill="url(#bk)"/>
<circle cx="614.4" cy="233.2" r="5.35" fill="url(#bk)"/>
<circle cx="617.3" cy="248.8" r="5.35" fill="url(#bk)"/>
<circle cx="625.2" cy="263.2" r="5.35" fill="url(#bk)"/>
<circle cx="634.8" cy="275.2" r="5.35" fill="url(#bk)"/>
<circle cx="645.1" cy="285.3" r="5.35" fill="url(#bk)"/>
<circle cx="659.5" cy="293.2" r="5.35" fill="url(#bk)"/>
<circle cx="674.9" cy="298.0" r="5.35" fill="url(#bk)"/>
<circle cx="688.8" cy="302.8" r="5.35" fill="url(#bk)"/>
<circle cx="697.9" cy="308.8" r="5.35" fill="url(#bk)"/>
<circle cx="720.0" cy="303.7" r="5.35" fill="url(#bk)"/>
<circle cx="732.8" cy="298.4" r="5.35" fill="url(#bk)"/>
<circle cx="746.0" cy="292.5" r="5.35" fill="url(#bk)"/>
<circle cx="758.9" cy="283.1" r="5.35" fill="url(#bk)"/>
<circle cx="768.8" cy="273.6" r="5.35" fill="url(#bk)"/>
<circle cx="775.6" cy="266.4" r="5.35" fill="url(#bk)"/>
<circle cx="780.6" cy="259.5" r="5.35" fill="url(#bk)"/>
<circle cx="784.9" cy="253.6" r="5.35" fill="url(#bk)"/>
<circle cx="786.9" cy="250.6" r="5.35" fill="url(#bk)"/>
<circle cx="789.8" cy="254.6" r="5.35" fill="url(#bk)"/>
<circle cx="793.7" cy="260.5" r="5.35" fill="url(#bk)"/>
<circle cx="798.3" cy="267.0" r="5.35" fill="url(#bk)"/>
<circle cx="804.2" cy="273.6" r="5.35" fill="url(#bk)"/>
<circle cx="813.4" cy="283.5" r="5.35" fill="url(#bk)"/>
<circle cx="823.8" cy="291.0" r="5.35" fill="url(#bk)"/>
<circle cx="837.0" cy="297.8" r="5.35" fill="url(#bk)"/>
<circle cx="849.8" cy="302.4" r="5.35" fill="url(#bk)"/>
<circle cx="867.2" cy="306.9" r="5.35" fill="url(#bk)"/>
<circle cx="884.0" cy="309.3" r="5.35" fill="url(#bk)"/>
<circle cx="900.3" cy="306.9" r="5.35" fill="url(#bk)"/>
<circle cx="915.2" cy="301.6" r="5.35" fill="url(#bk)"/>
<circle cx="931.3" cy="294.9" r="5.35" fill="url(#bk)"/>
<circle cx="946.9" cy="285.3" r="5.35" fill="url(#bk)"/>
<circle cx="953.6" cy="272.3" r="5.35" fill="url(#bk)"/>
<circle cx="960.8" cy="258.4" r="5.35" fill="url(#bk)"/>
<circle cx="964.4" cy="242.8" r="5.35" fill="url(#bk)"/>
</g>
<path d="M916.6,13.6H931.8M945.8,13.6H961.2" stroke="#000" stroke-width="1.9"/><circle cx="938.8" cy="13.6" r="5.3" fill="url(#bk)"/>
<path d="M916.6,38.2H931.5M946,38.2H961.2" stroke="#ff8c10" stroke-width="1.9"/><path d="M932.8,35 H944.8 L938.8,45.2Z" fill="#ff8c10"/>
<path d="M916.6,62.5H931.8M945.8,62.5H961.2" stroke="#ff8c10" stroke-width="1.9"/><circle cx="938.8" cy="62.5" r="5.35" fill="url(#og)"/>
<text x="4.10" y="26.43" font-size="26.91" textLength="41.86" lengthAdjust="spacingAndGlyphs" fill="#000" stroke="#000" style="stroke-width:0">(a)</text>
<text x="552.82" y="26.91" font-size="27.43" textLength="42.09" lengthAdjust="spacingAndGlyphs" fill="#000" stroke="#000" style="stroke-width:0">(b)</text>
<text x="87.42" y="44.25" font-size="28.37" textLength="61.44" lengthAdjust="spacingAndGlyphs" fill="#fff" stroke="#fff">MD4</text>
<text x="127.59" y="134.82" font-size="21.24" textLength="12.84" lengthAdjust="spacingAndGlyphs" fill="#ff8c10" stroke="#ff8c10" style="stroke-width:0">4</text>
<text x="53.44" y="398.90" font-size="17.35" textLength="10.46" lengthAdjust="spacingAndGlyphs" fill="#000" stroke="#000">0</text>
<text x="34.96" y="331.67" font-size="18.11" textLength="29.04" lengthAdjust="spacingAndGlyphs" fill="#000" stroke="#000">200</text>
<text x="35.70" y="263.86" font-size="18.03" textLength="28.17" lengthAdjust="spacingAndGlyphs" fill="#000" stroke="#000">400</text>
<text x="35.23" y="197.09" font-size="17.07" textLength="28.75" lengthAdjust="spacingAndGlyphs" fill="#000" stroke="#000">600</text>
<text x="35.35" y="130.17" font-size="16.96" textLength="28.61" lengthAdjust="spacingAndGlyphs" fill="#000" stroke="#000">800</text>
<text x="25.59" y="63.07" font-size="17.74" textLength="38.39" lengthAdjust="spacingAndGlyphs" fill="#000" stroke="#000">1000</text>
<text x="115.00" y="425.07" font-size="17.16" textLength="39.02" lengthAdjust="spacingAndGlyphs" fill="#000" stroke="#000">1300</text>
<text x="224.61" y="425.07" font-size="17.19" textLength="38.90" lengthAdjust="spacingAndGlyphs" fill="#000" stroke="#000">1320</text>
<text x="334.23" y="425.07" font-size="17.01" textLength="38.94" lengthAdjust="spacingAndGlyphs" fill="#000" stroke="#000">1340</text>
<text x="443.56" y="425.07" font-size="17.24" textLength="39.11" lengthAdjust="spacingAndGlyphs" fill="#000" stroke="#000">1360</text>
<text x="-224.66" y="21.14" font-size="23.28" transform="rotate(-90)" textLength="68.66" lengthAdjust="spacingAndGlyphs" fill="#000" stroke="#000">Counts</text>
<clipPath id="bc"><rect x="0" y="0" width="560" height="453.3"/></clipPath><g clip-path="url(#bc)"><g transform="translate(226.6,452.5) scale(0.995,1)"><text x="0" y="0" font-size="21.4" stroke="#000">Raman shift [cm<tspan dy="-8.35" font-size="13.9">-1</tspan><tspan dy="8.35">]</tspan></text></g></g>
<text x="248.21" y="287.05" font-size="20.57" textLength="24.11" lengthAdjust="spacingAndGlyphs" fill="#ff8c10" stroke="#ff8c10" style="stroke-width:0.1px">C1</text>
<text x="321.54" y="142.04" font-size="21.55" textLength="25.04" lengthAdjust="spacingAndGlyphs" fill="#ff8c10" stroke="#ff8c10" style="stroke-width:0.1px">C2</text>
<text x="432.69" y="43.14" font-size="29.00" font-style="italic" textLength="93.26" lengthAdjust="spacingAndGlyphs" fill="#ff8c10" stroke="#ff8c10" style="stroke-width:0">z(yy)z</text>
<rect x="510.6" y="17.8" width="15" height="2.6" fill="#ff8c10"/>
<text x="994.06" y="236.33" font-size="17.24" textLength="9.83" lengthAdjust="spacingAndGlyphs" fill="#000" stroke="#000">0</text>
<text x="966.76" y="124.27" font-size="16.81" textLength="18.71" lengthAdjust="spacingAndGlyphs" fill="#000" stroke="#000">30</text>
<text x="890.21" y="49.05" font-size="17.07" textLength="18.69" lengthAdjust="spacingAndGlyphs" fill="#000" stroke="#000">60</text>
<text x="778.14" y="20.11" font-size="16.62" textLength="18.65" lengthAdjust="spacingAndGlyphs" fill="#000" stroke="#000">90</text>
<text x="656.99" y="48.83" font-size="16.36" textLength="27.64" lengthAdjust="spacingAndGlyphs" fill="#000" stroke="#000">120</text>
<text x="581.81" y="124.33" font-size="16.26" textLength="27.36" lengthAdjust="spacingAndGlyphs" fill="#000" stroke="#000">150</text>
<text x="553.62" y="236.08" font-size="16.26" textLength="27.54" lengthAdjust="spacingAndGlyphs" fill="#000" stroke="#000">180</text>
<text x="581.55" y="349.33" font-size="16.26" textLength="27.05" lengthAdjust="spacingAndGlyphs" fill="#000" stroke="#000">210</text>
<text x="656.16" y="424.83" font-size="16.26" textLength="27.38" lengthAdjust="spacingAndGlyphs" fill="#000" stroke="#000">240</text>
<text x="774.10" y="453.58" font-size="16.26" textLength="27.07" lengthAdjust="spacingAndGlyphs" fill="#000" stroke="#000">270</text>
<text x="891.10" y="426.00" font-size="16.79" textLength="27.12" lengthAdjust="spacingAndGlyphs" fill="#000" stroke="#000">300</text>
<text x="966.51" y="349.81" font-size="16.95" textLength="27.29" lengthAdjust="spacingAndGlyphs" fill="#000" stroke="#000">330</text>
<text x="793.13" y="229.37" font-size="17.21" textLength="10.79" lengthAdjust="spacingAndGlyphs" fill="#000" stroke="#000">0</text>
<text x="859.71" y="204.57" font-size="17.67" textLength="28.07" lengthAdjust="spacingAndGlyphs" fill="#000" stroke="#000">0.5</text>
<text x="939.90" y="137.75" font-size="18.25" textLength="7.80" lengthAdjust="spacingAndGlyphs" fill="#000" stroke="#000">1</text>
<text x="966.56" y="20.66" font-size="18.46" textLength="64.40" lengthAdjust="spacingAndGlyphs" fill="#000" stroke="#000">Si(001)</text>
<text x="966.79" y="44.56" font-size="19.86" textLength="23.11" lengthAdjust="spacingAndGlyphs" fill="#ff8c10" stroke="#ff8c10">C1</text>
<text x="966.85" y="69.56" font-size="19.41" textLength="24.93" lengthAdjust="spacingAndGlyphs" fill="#ff8c10" stroke="#ff8c10">C2</text>
</svg></body></html>
